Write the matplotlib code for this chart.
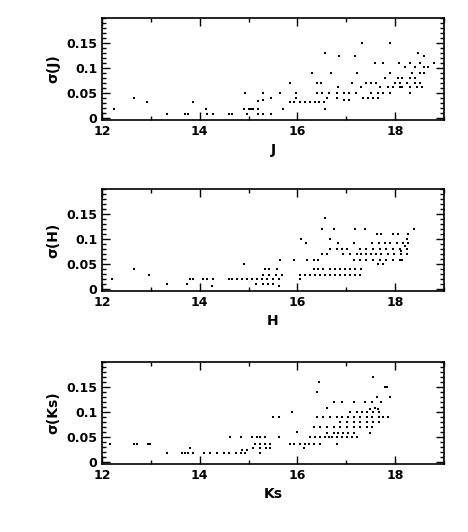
import matplotlib
matplotlib.use("Agg")
import matplotlib.pyplot as plt
from matplotlib.ticker import MultipleLocator, FixedLocator

J_mag = [12.24,12.66,12.93,13.34,13.70,13.75,13.87,14.12,14.15,14.28,14.59,14.67,14.93,14.9,15.0,15.05,15.1,15.2,14.96,15.2,15.3,15.45,15.2,15.3,15.3,15.45,15.64,15.71,15.85,15.84,15.92,15.97,15.97,
         16.05,16.15,16.25,16.35,16.45,16.55,16.56,16.29,16.4,16.48,16.56,16.68,16.86,17.18,17.21,
         16.4,16.5,16.65,16.8,16.95,17.05,17.2,16.6,16.8,16.95,17.05,16.84,17.12,17.3,17.4,17.5,17.6,
         17.35,17.45,17.55,17.65,17.5,17.65,17.75,17.9,17.58,17.75,17.8,17.9,17.7,17.85,17.95,18.1,
         18.0,18.1,18.25,18.4,18.5,18.05,18.15,18.3,18.4,18.08,18.3,18.5,18.2,18.4,18.6,18.67,18.35,18.5,18.6,
         18.15,18.3,18.45,18.55,18.3,18.47,18.6,18.8,17.33,17.9]
J_err = [.018,.039,.031,.008,.008,.008,.031,.018,.008,.008,.008,.008,.049,.018,.018,.018,.018,.018,.008,.008,.008,.008,.033,.035,.049,.040,.050,.018,.070,.031,.031,.049,.040,
         .031,.031,.031,.031,.031,.031,.018,.090,.070,.070,.130,.090,.123,.123,.090,
         .049,.049,.049,.049,.049,.049,.049,.040,.040,.035,.035,.061,.070,.061,.070,.070,.070,
         .040,.040,.040,.040,.049,.049,.049,.049,.109,.109,.080,.090,.061,.061,.061,.061,
         .070,.070,.070,.070,.070,.080,.080,.080,.080,.109,.109,.109,.101,.101,.101,.101,.090,.090,.090,
         .061,.061,.061,.061,.049,.130,.123,.109,.150,.150]

H_mag = [12.2,12.65,12.96,13.34,13.74,13.8,13.87,14.07,14.14,14.28,14.25,
         14.6,14.67,14.77,14.87,14.97,15.07,15.17,15.27,15.38,15.51,15.62,14.9,15.15,15.29,15.39,15.5,15.63,
         15.29,15.42,15.56,15.69,15.33,15.42,15.59,15.64,15.92,16.05,16.05,16.08,16.18,
         16.15,16.26,16.36,16.47,16.57,16.67,16.77,16.87,16.98,17.08,17.18,17.28,16.19,16.33,16.43,
         16.33,16.43,16.53,16.67,16.77,16.87,16.98,17.08,17.18,17.31,16.5,16.6,16.56,16.5,16.74,16.67,
         16.67,16.81,16.91,17.01,16.84,17.15,16.94,17.08,17.21,17.31,17.41,17.51,17.61,17.71,17.85,17.98,18.12,18.25,
         17.15,17.28,17.41,17.55,17.69,17.82,17.96,18.1,17.18,17.39,17.28,17.41,17.55,17.69,17.82,17.96,18.1,18.24,
         17.52,17.66,17.79,17.89,18.03,18.16,18.26,17.62,17.72,17.96,18.06,18.26,17.65,17.75,18.15,18.38,18.24,18.2,18.12]
H_err = [.019,.039,.027,.009,.009,.019,.019,.019,.019,.019,.005,
         .019,.019,.019,.019,.019,.019,.019,.019,.019,.019,.019,.049,.009,.009,.009,.009,.005,
         .027,.027,.027,.027,.039,.039,.039,.058,.058,.019,.027,.099,.091,
         .027,.027,.027,.027,.027,.027,.027,.027,.027,.027,.027,.027,.058,.058,.058,
         .039,.039,.039,.039,.039,.039,.039,.039,.039,.039,.069,.069,.141,.120,.120,.099,
         .079,.079,.079,.079,.091,.091,.069,.069,.069,.069,.069,.069,.069,.069,.069,.069,.069,.069,
         .058,.058,.058,.058,.058,.058,.058,.058,.120,.120,.079,.079,.079,.079,.079,.079,.079,.079,
         .091,.091,.091,.091,.091,.091,.091,.109,.109,.109,.109,.109,.049,.049,.058,.120,.099,.086,.076]

K_mag = [12.17,12.65,12.72,12.95,12.99,13.34,13.63,13.7,13.77,13.8,13.87,14.08,14.22,14.35,14.49,14.59,14.74,14.84,14.93,14.86,14.96,15.23,
         14.63,14.84,15.07,15.17,15.23,15.34,15.13,15.23,15.34,15.44,15.1,15.23,15.36,15.44,15.51,15.62,15.62,
         15.85,15.92,16.06,16.16,16.23,16.33,16.47,15.88,16.0,16.13,
         16.26,16.36,16.47,16.57,16.64,16.71,16.81,16.91,17.01,17.11,17.22,16.6,16.74,16.84,16.94,17.04,17.15,
         16.33,16.47,16.6,16.74,16.87,17.01,17.15,17.28,17.42,17.52,
         16.4,16.53,16.67,16.81,16.91,17.04,17.15,17.28,17.42,17.52,17.66,17.76,17.86,16.4,16.45,16.6,16.74,16.91,
         16.87,17.01,17.15,17.28,17.42,17.55,17.66,17.08,17.22,17.32,17.42,17.55,17.66,
         17.15,17.39,17.52,17.62,17.72,17.89,17.49,17.59,17.65,17.55,17.8,17.84,16.81,17.48]
K_err = [.036,.036,.036,.036,.036,.018,.018,.018,.018,.028,.018,.018,.018,.018,.018,.018,.018,.018,.018,.023,.023,.018,
         .050,.050,.050,.050,.050,.050,.035,.035,.035,.035,.028,.028,.028,.028,.089,.089,.050,
         .035,.035,.035,.035,.035,.035,.035,.100,.059,.028,
         .050,.050,.050,.050,.050,.050,.050,.050,.050,.050,.050,.058,.058,.058,.058,.058,.058,
         .070,.070,.070,.070,.070,.070,.070,.070,.070,.070,
         .089,.089,.089,.089,.089,.089,.089,.089,.089,.089,.089,.089,.089,.140,.160,.107,.120,.120,
         .079,.079,.079,.079,.079,.079,.079,.100,.100,.100,.100,.100,.100,
         .120,.120,.120,.130,.120,.130,.105,.108,.105,.170,.150,.150,.036,.058]

panels = [(J_mag, J_err, "J", "σ(J)"), (H_mag, H_err, "H", "σ(H)"), (K_mag, K_err, "Ks", "σ(Ks)")]
tops = [18, 189, 362]

fig = plt.figure(figsize=(4.68, 5.32), dpi=100)
W, Hh = 468, 532
for (x, y, xl, yl), top in zip(panels, tops):
    ax = fig.add_axes([102/W, 1-(top+102)/Hh, 342/W, 102/Hh])
    ax.scatter(x, y, s=3, marker='s', color='black', linewidths=0)
    ax.set_xlim(12, 19)
    ax.set_ylim(-0.005, 0.2)
    ax.xaxis.set_major_locator(FixedLocator([12, 14, 16, 18]))
    ax.xaxis.set_minor_locator(MultipleLocator(1))
    ax.yaxis.set_major_locator(FixedLocator([0, 0.05, 0.1, 0.15]))
    ax.yaxis.set_minor_locator(MultipleLocator(0.01))
    ax.set_yticklabels(["0", "0.05", "0.1", "0.15"])
    ax.tick_params(which='both', direction='in', top=True, right=True, labelsize=9, width=1)
    ax.tick_params(which='major', length=6)
    ax.tick_params(which='minor', length=3)
    for lab in ax.get_xticklabels() + ax.get_yticklabels():
        lab.set_fontweight('bold')
    for sp in ax.spines.values():
        sp.set_linewidth(1.2)
    ax.set_xlabel(xl, fontsize=10, fontweight='bold')
    ax.set_ylabel(yl, fontsize=10, fontweight='bold')

fig.savefig("out.png", dpi=100)
